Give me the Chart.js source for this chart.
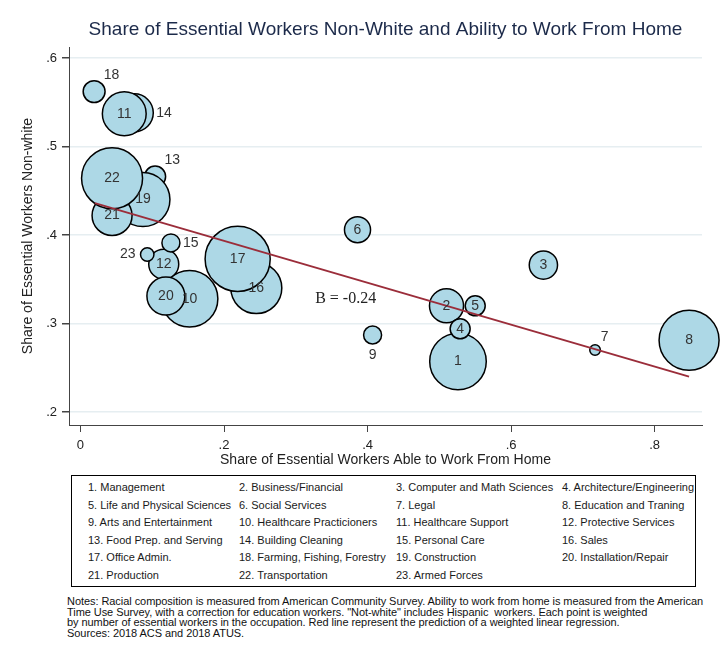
<!DOCTYPE html>
<html>
<head>
<meta charset="utf-8">
<title>Share of Essential Workers Non-White and Ability to Work From Home</title>
<script src="https://cdn.jsdelivr.net/npm/chart.js@4.4.1/dist/chart.umd.min.js"></script>
<style>
    body { margin: 0; background: #fff; font-family: "Liberation Sans", Arial, sans-serif; }
    #contenedor { position: relative; width: 721px; height: 661px; }
    #grafico { position: absolute; left: 0; top: 0; }
    #leyenda {
        position: absolute; left: 71px; top: 475px; width: 625px; height: 112px;
        box-sizing: border-box; border: 1px solid #000;
        padding: 3px 0 0 16px;
        display: grid; grid-template-columns: 151px 157px 166px auto; grid-auto-rows: 17.6px;
        font-size: 11px; line-height: 17.6px; color: #1a1a1a; white-space: nowrap;
    }
    #notas {
        position: absolute; left: 67px; top: 596px;
        font-size: 11px; line-height: 10.6px; letter-spacing: -0.06px; color: #111; white-space: nowrap;
    }
</style>
</head>
<body>
<div id="contenedor">
    <canvas id="grafico" width="721" height="470"></canvas>
    <div id="leyenda"></div>
    <div id="notas">
        Notes: Racial composition is measured from American Community Survey. Ability to work from home is measured from the American<br>
        Time Use Survey, with a correction for education workers. "Not-white" includes Hispanic&nbsp; workers. Each point is weighted<br>
        by number of essential workers in the occupation. Red line represent the prediction of a weighted linear regression.<br>
        Sources: 2018 ACS and 2018 ATUS.
    </div>
</div>
<script>
// Datos (una entrada por ocupacion, numeradas 1..23)
const ocupaciones = ['Management', 'Business/Financial', 'Computer and Math Sciences', 'Architecture/Engineering',
    'Life and Physical Sciences', 'Social Services', 'Legal', 'Education and Traning',
    'Arts and Entertainment', 'Healthcare Practicioners', 'Healthcare Support', 'Protective Services',
    'Food Prep. and Serving', 'Building Cleaning', 'Personal Care', 'Sales',
    'Office Admin.', 'Farming, Fishing, Forestry', 'Construction', 'Installation/Repair',
    'Production', 'Transportation', 'Armed Forces'];

// Proporcion que puede trabajar desde casa (eje x)
const trabajoCasa = [0.526, 0.510, 0.645, 0.529, 0.550, 0.386, 0.717, 0.848, 0.407, 0.152, 0.061, 0.116,
    0.104, 0.075, 0.126, 0.245, 0.219, 0.019, 0.087, 0.119, 0.044, 0.044, 0.093];

// Proporcion no blanca (eje y)
const noBlancos = [0.257, 0.320, 0.366, 0.294, 0.320, 0.406, 0.270, 0.281, 0.287, 0.328, 0.537, 0.367,
    0.466, 0.538, 0.391, 0.340, 0.373, 0.562, 0.440, 0.331, 0.422, 0.464, 0.378];

// Peso relativo (numero de trabajadores esenciales)
const pesos = [8.0, 2.9, 2.0, 1.0, 1.0, 1.7, 0.28, 9.0, 0.81, 8.0, 4.8, 2.25,
    1.1, 3.6, 0.81, 6.5, 10.6, 1.2, 7.3, 3.6, 4.0, 9.3, 0.45];

// Recta de regresion ponderada (extremos)
const ajusteX = [0.020, 0.848];
const ajusteY = [0.436, 0.240];

const ticksX = [0, 0.2, 0.4, 0.6, 0.8];
const ticksY = [0.2, 0.3, 0.4, 0.5, 0.6];

const textoB = 'B = -0.24';
const posicionB = [0.327, 0.328];

// Posicion de la etiqueta de cada burbuja (por defecto centrada)
const posEtiqueta = { 7: 'ne', 9: 's', 13: 'ne', 14: 'e', 15: 'e', 18: 'ne', 23: 'w' };

const fuente = '"Liberation Sans", Arial, sans-serif';
Chart.defaults.font.family = fuente;
Chart.defaults.color = '#222';

// Leyenda con los nombres
const leyenda = document.getElementById('leyenda');
ocupaciones.forEach((nombre, i) => {
    const span = document.createElement('span');
    span.textContent = `${i + 1}. ${nombre}`;
    leyenda.appendChild(span);
});

// Puntos de las burbujas; el 14 va antes que el 11 para quedar detras
let puntos = ocupaciones.map((nombre, i) => ({
    x: trabajoCasa[i],
    y: noBlancos[i],
    r: 10 * Math.sqrt(pesos[i]),
    num: i + 1
}));
const p14 = puntos.splice(13, 1)[0];
puntos.splice(10, 0, p14);

function formatoTick(v) {
    const s = (Math.round(v * 10) / 10).toString();
    return s.replace(/^0\./, '.');
}

// Numeros de las burbujas y texto del coeficiente
const etiquetasBurbujas = {
    id: 'etiquetasBurbujas',
    afterDatasetsDraw(chart) {
        const ctx = chart.ctx;
        const meta = chart.getDatasetMeta(1);
        const datos = chart.data.datasets[1].data;
        ctx.save();
        ctx.font = '14px ' + fuente;
        ctx.fillStyle = '#333';
        meta.data.forEach((el, i) => {
            const num = datos[i].num;
            const r = el.options.radius;
            const pos = posEtiqueta[num] || 'c';
            let x = el.x, y = el.y;
            if (pos === 'c') {
                ctx.textAlign = 'center'; ctx.textBaseline = 'middle';
            } else if (pos === 'e') {
                x += r + 3; ctx.textAlign = 'left'; ctx.textBaseline = 'middle';
            } else if (pos === 'w') {
                x -= r + 5; ctx.textAlign = 'right'; ctx.textBaseline = 'middle';
            } else if (pos === 's') {
                y += r + 4; ctx.textAlign = 'center'; ctx.textBaseline = 'top';
            } else {
                x += r * 0.7 + 2; y -= r * 0.7 + 2; ctx.textAlign = 'left'; ctx.textBaseline = 'bottom';
            }
            ctx.fillText(String(num), x, y);
        });

        ctx.font = '16px "Liberation Serif", "Times New Roman", serif';
        ctx.fillStyle = '#222';
        ctx.textAlign = 'left';
        ctx.textBaseline = 'middle';
        ctx.fillText(textoB, chart.scales.x.getPixelForValue(posicionB[0]), chart.scales.y.getPixelForValue(posicionB[1]));
        ctx.restore();
    }
};

new Chart(document.getElementById('grafico'), {
    data: {
        datasets: [{
            type: 'line',
            order: 0,
            data: ajusteX.map((x, i) => ({ x: x, y: ajusteY[i] })),
            borderColor: '#9b2d3a',
            borderWidth: 2,
            pointRadius: 0,
            fill: false
        }, {
            type: 'bubble',
            order: 1,
            clip: false,
            data: puntos,
            backgroundColor: '#add8e6',
            borderColor: '#000',
            borderWidth: 1.5
        }]
    },
    options: {
        responsive: false,
        animation: false,
        devicePixelRatio: 1,
        layout: { autoPadding: false, padding: { top: 0, right: 19, bottom: 0, left: 0 } },
        plugins: {
            legend: { display: false },
            tooltip: { enabled: false },
            title: {
                display: true,
                fullSize: false,
                text: 'Share of Essential Workers Non-White and Ability to Work From Home',
                color: '#1c2a4a',
                font: { size: 19, weight: 'normal' },
                padding: { top: 18, bottom: 6.2 }
            }
        },
        scales: {
            x: {
                type: 'linear',
                min: -0.016,
                max: 0.866,
                afterFit: (scale) => { scale.height = 45; },
                afterBuildTicks: (scale) => { scale.ticks = ticksX.map(v => ({ value: v })); },
                ticks: { callback: formatoTick, font: { size: 13 }, color: '#222', padding: 6, maxRotation: 0 },
                grid: { drawOnChartArea: false, drawTicks: true, tickLength: 7, tickColor: '#444' },
                border: { display: true, color: '#444', width: 1 },
                title: {
                    display: true,
                    text: 'Share of Essential Workers Able to Work From Home',
                    font: { size: 14 },
                    color: '#222',
                    padding: { top: 0, bottom: 1.6 }
                }
            },
            y: {
                type: 'linear',
                min: 0.1853,
                max: 0.6124,
                afterFit: (scale) => { scale.width = 69; },
                afterBuildTicks: (scale) => { scale.ticks = ticksY.map(v => ({ value: v })); },
                ticks: { callback: formatoTick, font: { size: 13 }, color: '#222', padding: 5 },
                grid: { color: '#e6eef1', lineWidth: 1.5, drawTicks: true, tickLength: 7, tickColor: '#444' },
                border: { display: true, color: '#444', width: 1 },
                title: {
                    display: true,
                    text: 'Share of Essential Workers Non-white',
                    font: { size: 14 },
                    color: '#222',
                    padding: { top: 19.6, bottom: 0 }
                }
            }
        }
    },
    plugins: [etiquetasBurbujas]
});
</script>
</body>
</html>
